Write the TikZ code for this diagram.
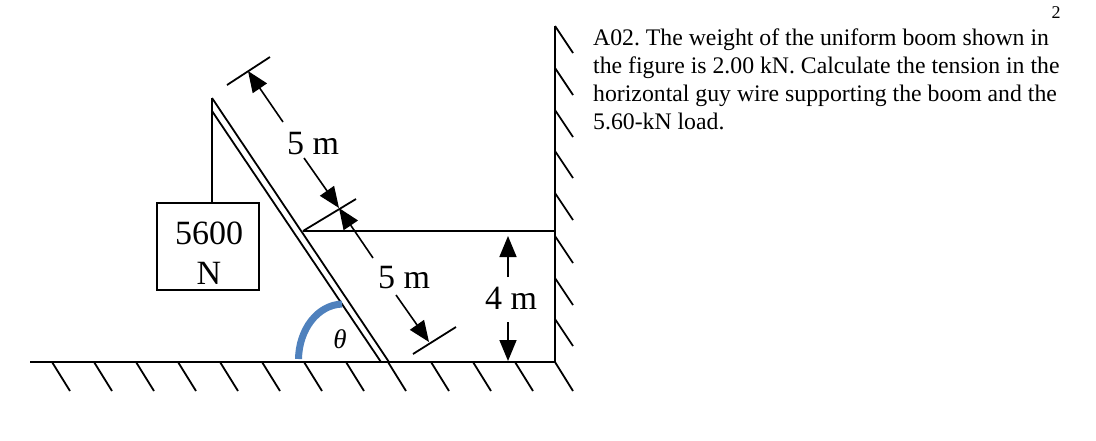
\documentclass[tikz,border=0pt]{standalone}
\usepackage{fontspec}
\setmainfont{Liberation Serif}
\usetikzlibrary{arrows.meta}
\definecolor{arcblue}{HTML}{4F81BD}
\tikzset{
  ln/.style={line width=1.8pt,black},
  hatchline/.style={line width=1.8pt,black},
  dim/.style={line width=1.6pt,black,-{Triangle[length=21pt,width=17pt]}},
  fig/.style={inner sep=0pt,outer sep=0pt,font=\fontsize{34}{36}\selectfont},
  para/.style={inner sep=0pt,anchor=north west,align=left,font=\fontsize{23.75}{28}\selectfont\frenchspacing}
}
\begin{document}
\begin{tikzpicture}[x=1pt,y=-1pt]
\useasboundingbox (0,0) rectangle (1096,440);
% reference points
\coordinate (gl) at (30,362);
\coordinate (gr) at (555,362);
\coordinate (wt) at (555,26);
\coordinate (bt) at (212,98);
\coordinate (bt2) at (212,111);
\coordinate (bb) at (389,362);
\coordinate (bb2) at (381,362);
\coordinate (wj) at (303,231);
\coordinate (wr) at (555,231);
% ground and wall
\draw[ln] (gl) -- (gr) -- (wt);
\foreach \x in {52,94,136,178,220,262,304,346,388,431,473,515,555}
  \draw[hatchline] (\x,362) -- ++(18,29);
\foreach \y in {26,68,110,151,193,236,278,319}
  \draw[hatchline] (555,\y) -- ++(18,27);
% boom
\draw[ln] (bt) -- (bb);
\draw[ln] (bt2) -- (bb2);
% wire
\draw[ln] (wj) -- (wr);
% load
\node[draw,line width=1.6pt,minimum width=102pt,minimum height=87pt,inner sep=0pt,outer sep=0pt] (box) at (208,246.5) {};
\draw[ln] (bt) -- (bt |- box.north);
\node[fig] (load1) at (209,233) {5600};
\node[fig] (load2) at (209,273) {N};
% ticks
\coordinate (t1a) at (227,85); \coordinate (t1b) at (270,57);
\coordinate (t2b) at (356,199);
\coordinate (t3a) at (413,354); \coordinate (t3b) at (456,327);
\draw[ln] (t1a) -- (t1b);
\draw[ln] (wj) -- (t2b);
\draw[ln] (t3a) -- (t3b);
% dimension arrows
\coordinate (p1) at (248,71); \coordinate (q1) at (283,122);
\coordinate (q2) at (304,158); \coordinate (p2) at (339,208);
\coordinate (q3) at (373,258);
\coordinate (q4) at (396,295); \coordinate (p4) at (429,342);
\coordinate (q5) at (508,277); \coordinate (p5) at (508,236);
\coordinate (q6) at (508,322); \coordinate (p6) at (508,361);
\draw[dim] (q1) -- (p1);
\draw[dim] (q2) -- (p2);
\draw[dim] (q3) -- (p2);
\draw[dim] (q4) -- (p4);
\draw[dim] (q5) -- (p5);
\draw[dim] (q6) -- (p6);
\node[fig] (d1) at (313,144) {5 m};
\node[fig] (d2) at (404,278) {5 m};
\node[fig] (d3) at (511,298) {4 m};
% angle
\coordinate (a0) at (298.5,359); \coordinate (a1) at (342,304);
\draw[arcblue,line width=7pt] (a0) .. controls (299,330) and (317,305) .. (a1);
\node[inner sep=0pt,font=\fontsize{27}{27}\selectfont\itshape] (th) at (340,339) {θ};
% text
\node[inner sep=0pt,font=\fontsize{18}{20}\selectfont] (pg) at (1056,13) {2};
\node[para] (txt) at (593,29) {A02. The weight of the uniform boom shown in\\
the figure is 2.00 kN. Calculate the tension in the\\
horizontal guy wire supporting the boom and the\\
5.60-kN load.};
\end{tikzpicture}
\end{document}
